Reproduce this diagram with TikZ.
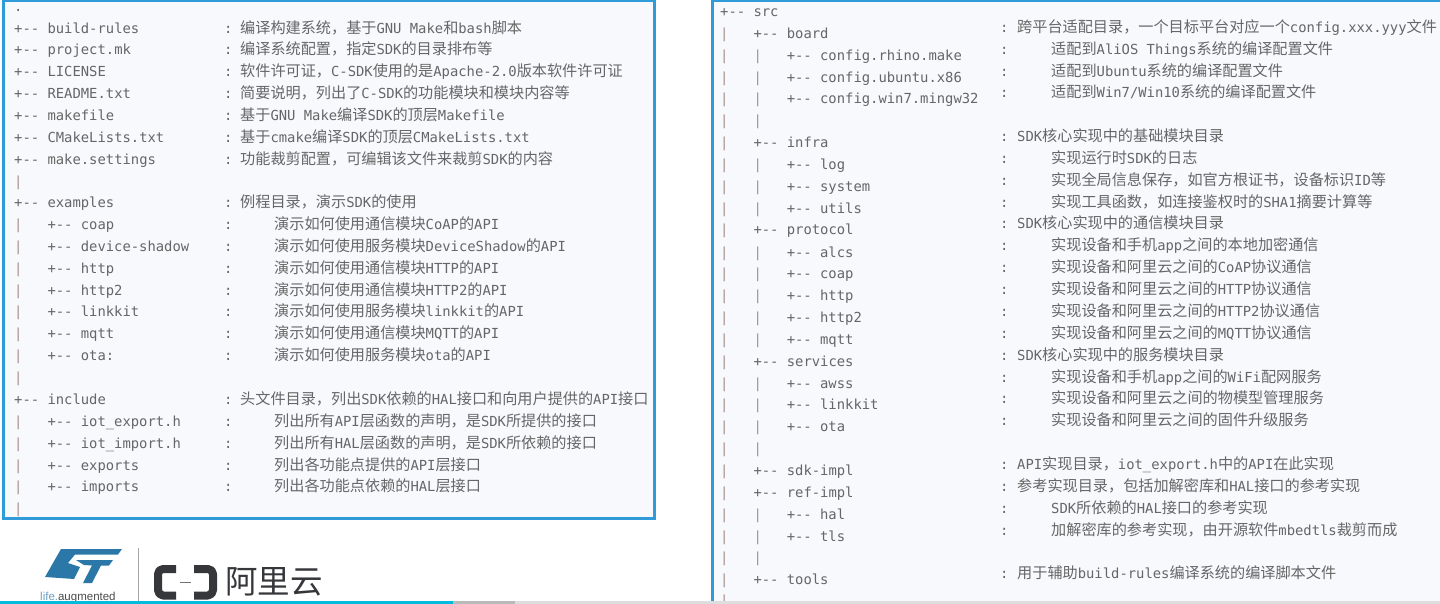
\documentclass[tikz,border=0pt]{standalone}
\usepackage{fontspec}
\setmainfont{DejaVu Sans}
\newfontfamily\monof{DejaVu Sans Mono}
\newfontfamily\cjk{Noto Sans CJK SC}
\newfontfamily\logof{Liberation Sans}
\newcommand{\z}[1]{{\cjk\fontsize{15.15}{16}\selectfont #1}}
\newcommand{\fc}{\char"FF0C\relax}
\newcounter{nn}
\definecolor{panelblue}{HTML}{2F9BD8}
\definecolor{panelbg}{HTML}{F8F9FD}
\definecolor{txt}{HTML}{666666}
\definecolor{pipec}{HTML}{A58E88}
\definecolor{stblue}{HTML}{2A77A8}
\definecolor{alidark}{HTML}{35373B}
\definecolor{barcyan}{HTML}{00BCDC}
\tikzset{
  x=1pt,y=-1pt,
  panel/.style={draw=panelblue,line width=3pt,fill=panelbg},
  tx/.style={inner sep=0pt,anchor=base west,font=\monof\fontsize{13.85}{16}\selectfont,text=txt},
  pipe/.style={tx,text=pipec},
  dsc/.style={tx,text=txt},
}
\newcommand{\tx}[3]{\stepcounter{nn}\node[tx] (t\arabic{nn}) at (#1,#2+5.5) {#3};}
\newcommand{\pp}[2]{\stepcounter{nn}\node[pipe] (t\arabic{nn}) at (#1,#2+5.5) {|};}
\newcommand{\ds}[3]{\stepcounter{nn}\node[dsc] (t\arabic{nn}) at (#1,#2+5.5) {#3};}
% left panel rows
\newcommand{\LT}[3]{\tx{14}{#1}{+-- #2}\tx{224}{#1}{:}\ds{240}{#1}{#3}}
\newcommand{\LS}[3]{\pp{14}{#1}\tx{47.3}{#1}{+-- #2}\tx{224}{#1}{:}\ds{274}{#1}{#3}}
% right panel rows
\newcommand{\RM}[3]{\pp{720}{#1}\tx{753.3}{#1}{+-- #2}\tx{1000}{#1-6}{:}\ds{1017}{#1-6}{#3}}
\newcommand{\RS}[3]{\pp{720}{#1}\pp{753.3}{#1}\tx{786.6}{#1}{+-- #2}\tx{1000}{#1-6}{:}\ds{1051}{#1-6}{#3}}
\begin{document}
\begin{tikzpicture}
\useasboundingbox (0,0) rectangle (1440,604);
\clip (0,0) rectangle (1440,604);
\fill[white] (0,0) rectangle (1440,604);
\draw[panel] (3,1) rectangle (654,518);
\draw[panel] (712,1) rectangle (1450,620);
% ---------- left panel
\tx{14}{6}{.}
\LT{28}{build-rules}{\z{编译构建系统\fc 基于}GNU Make\z{和}bash\z{脚本}}
\LT{49.5}{project.mk}{\z{编译系统配置\fc 指定}SDK\z{的目录排布等}}
\LT{71}{LICENSE}{\z{软件许可证\fc}C-SDK\z{使用的是}Apache-2.0\z{版本软件许可证}}
\LT{93}{README.txt}{\z{简要说明\fc 列出了}C-SDK\z{的功能模块和模块内容等}}
\LT{115}{makefile}{\z{基于}GNU Make\z{编译}SDK\z{的顶层}Makefile}
\LT{137}{CMakeLists.txt}{\z{基于}cmake\z{编译}SDK\z{的顶层}CMakeLists.txt}
\LT{159}{make.settings}{\z{功能裁剪配置\fc 可编辑该文件来裁剪}SDK\z{的内容}}
\pp{14}{181}
\LT{202}{examples}{\z{例程目录\fc 演示}SDK\z{的使用}}
\LS{224}{coap}{\z{演示如何使用通信模块}CoAP\z{的}API}
\LS{246}{device-shadow}{\z{演示如何使用服务模块}DeviceShadow\z{的}API}
\LS{268}{http}{\z{演示如何使用通信模块}HTTP\z{的}API}
\LS{289.5}{http2}{\z{演示如何使用通信模块}HTTP2\z{的}API}
\LS{311}{linkkit}{\z{演示如何使用服务模块}linkkit\z{的}API}
\LS{333}{mqtt}{\z{演示如何使用通信模块}MQTT\z{的}API}
\LS{355}{ota:}{\z{演示如何使用服务模块}ota\z{的}API}
\pp{14}{377}
\LT{399}{include}{\z{头文件目录\fc 列出}SDK\z{依赖的}HAL\z{接口和向用户提供的}API\z{接口}}
\LS{421}{iot\_export.h}{\z{列出所有}API\z{层函数的声明\fc 是}SDK\z{所提供的接口}}
\LS{443}{iot\_import.h}{\z{列出所有}HAL\z{层函数的声明\fc 是}SDK\z{所依赖的接口}}
\LS{465}{exports}{\z{列出各功能点提供的}API\z{层接口}}
\LS{486}{imports}{\z{列出各功能点依赖的}HAL\z{层接口}}
\pp{14}{508}
% ---------- right panel
\tx{720}{11}{+-- src}
\RM{33}{board}{\z{跨平台适配目录\fc 一个目标平台对应一个}config.xxx.yyy\z{文件}}
\RS{55}{config.rhino.make}{\z{适配到}AliOS Things\z{系统的编译配置文件}}
\RS{77}{config.ubuntu.x86}{\z{适配到}Ubuntu\z{系统的编译配置文件}}
\RS{98.5}{config.win7.mingw32}{\z{适配到}Win7/Win10\z{系统的编译配置文件}}
\pp{720}{120}\pp{753.3}{120}
\RM{142}{infra}{SDK\z{核心实现中的基础模块目录}}
\RS{164}{log}{\z{实现运行时}SDK\z{的日志}}
\RS{186}{system}{\z{实现全局信息保存\fc 如官方根证书\fc 设备标识}ID\z{等}}
\RS{208}{utils}{\z{实现工具函数\fc 如连接鉴权时的}SHA1\z{摘要计算等}}
\RM{229.5}{protocol}{SDK\z{核心实现中的通信模块目录}}
\RS{251.5}{alcs}{\z{实现设备和手机}app\z{之间的本地加密通信}}
\RS{273}{coap}{\z{实现设备和阿里云之间的}CoAP\z{协议通信}}
\RS{295}{http}{\z{实现设备和阿里云之间的}HTTP\z{协议通信}}
\RS{317}{http2}{\z{实现设备和阿里云之间的}HTTP2\z{协议通信}}
\RS{339}{mqtt}{\z{实现设备和阿里云之间的}MQTT\z{协议通信}}
\RM{360.5}{services}{SDK\z{核心实现中的服务模块目录}}
\RS{382.5}{awss}{\z{实现设备和手机}app\z{之间的}WiFi\z{配网服务}}
\RS{404}{linkkit}{\z{实现设备和阿里云之间的物模型管理服务}}
\RS{426}{ota}{\z{实现设备和阿里云之间的固件升级服务}}
\pp{720}{448}\pp{753.3}{448}
\RM{470}{sdk-impl}{API\z{实现目录\fc}iot\_export.h\z{中的}API\z{在此实现}}
\RM{492}{ref-impl}{\z{参考实现目录\fc 包括加解密库和}HAL\z{接口的参考实现}}
\RS{514}{hal}{SDK\z{所依赖的}HAL\z{接口的参考实现}}
\RS{535.5}{tls}{\z{加解密库的参考实现\fc 由开源软件}mbedtls\z{裁剪而成}}
\pp{720}{557}\pp{753.3}{557}
\RM{579}{tools}{\z{用于辅助}build-rules\z{编译系统的编译脚本文件}}
\pp{720}{600}
% ---------- logos
\fill[stblue] (61,549) -- (122,549) -- (118,554.5) -- (75,554.5) -- (68,563) -- (80,567) -- (74,579) -- (45,577) -- cycle;
\fill[stblue] (76,560) -- (113,560) -- (109,565.5) -- (101,565.5) -- (92,583) -- (83,583) -- (92,565.5) -- (84,565) -- cycle;
\node[inner sep=0pt,anchor=base west,font=\logof\fontsize{11.5}{12}\selectfont] (stlabel) at (40,600.5) {\textcolor{stblue!70}{life.}\textcolor{black!70}{augmented}};
\draw[black!35,line width=1pt] (138.5,548) -- (138.5,601);
\draw[alidark,line width=8pt,line join=round] (176,569) -- (163,569) to[out=180,in=90] (158,574) -- (158,590) to[out=-90,in=180] (163,595.5) -- (176,595.5);
\draw[alidark,line width=8pt,line join=round] (194,569) -- (208,569) to[out=0,in=90] (213,574) -- (213,590) to[out=-90,in=0] (208,595.5) -- (194,595.5);
\draw[black!55,line width=1pt] (180,582) -- (191,582);
\node[inner sep=0pt,anchor=base west,text=alidark,font=\cjk\fontsize{32.5}{34}\selectfont] (aliyun) at (225,593) {阿里云};
% ---------- bottom bar
\fill[black!13] (0,601) rectangle (1440,604);
\fill[black!27] (453,601) rectangle (515,604);
\fill[barcyan] (0,601) rectangle (453,604);
\end{tikzpicture}
\end{document}
